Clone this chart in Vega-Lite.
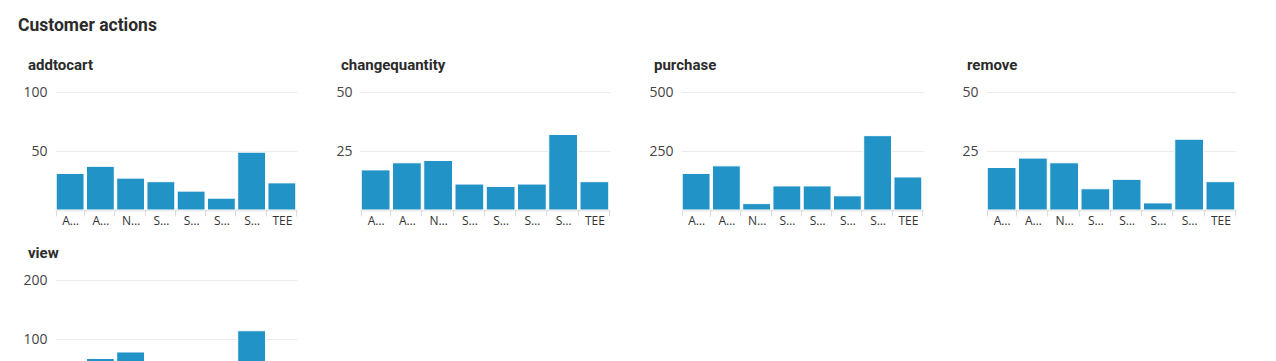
{
  "$schema": "https://vega.github.io/schema/vega-lite/v6.json",
  "background": "#ffffff",
  "padding": {"left": 17, "top": 16, "right": 5, "bottom": 0},
  "title": {"text": "Customer actions", "anchor": "start", "dx": -5, "fontSize": 17.5, "font": "Roboto", "fontWeight": "bold", "color": "#2b2b2b", "offset": 24},
  "datasets": {
    "actions": [
      {"action": "addtocart", "category": "ACCESSORIES", "count": 31},
      {"action": "addtocart", "category": "APPAREL", "count": 37},
      {"action": "addtocart", "category": "NOTEBOOKS", "count": 27},
      {"action": "addtocart", "category": "SHIRTS", "count": 24},
      {"action": "addtocart", "category": "SHORTS", "count": 16},
      {"action": "addtocart", "category": "SOCKS", "count": 10},
      {"action": "addtocart", "category": "SWEATSHIRTS", "count": 49},
      {"action": "addtocart", "category": "TEE", "count": 23},
      {"action": "changequantity", "category": "ACCESSORIES", "count": 17},
      {"action": "changequantity", "category": "APPAREL", "count": 20},
      {"action": "changequantity", "category": "NOTEBOOKS", "count": 21},
      {"action": "changequantity", "category": "SHIRTS", "count": 11},
      {"action": "changequantity", "category": "SHORTS", "count": 10},
      {"action": "changequantity", "category": "SOCKS", "count": 11},
      {"action": "changequantity", "category": "SWEATSHIRTS", "count": 32},
      {"action": "changequantity", "category": "TEE", "count": 12},
      {"action": "purchase", "category": "ACCESSORIES", "count": 155},
      {"action": "purchase", "category": "APPAREL", "count": 187},
      {"action": "purchase", "category": "NOTEBOOKS", "count": 27},
      {"action": "purchase", "category": "SHIRTS", "count": 102},
      {"action": "purchase", "category": "SHORTS", "count": 102},
      {"action": "purchase", "category": "SOCKS", "count": 60},
      {"action": "purchase", "category": "SWEATSHIRTS", "count": 315},
      {"action": "purchase", "category": "TEE", "count": 140},
      {"action": "remove", "category": "ACCESSORIES", "count": 18},
      {"action": "remove", "category": "APPAREL", "count": 22},
      {"action": "remove", "category": "NOTEBOOKS", "count": 20},
      {"action": "remove", "category": "SHIRTS", "count": 9},
      {"action": "remove", "category": "SHORTS", "count": 13},
      {"action": "remove", "category": "SOCKS", "count": 3},
      {"action": "remove", "category": "SWEATSHIRTS", "count": 30},
      {"action": "remove", "category": "TEE", "count": 12},
      {"action": "view", "category": "ACCESSORIES", "count": 55},
      {"action": "view", "category": "APPAREL", "count": 67},
      {"action": "view", "category": "NOTEBOOKS", "count": 78},
      {"action": "view", "category": "SHIRTS", "count": 40},
      {"action": "view", "category": "SHORTS", "count": 35},
      {"action": "view", "category": "SOCKS", "count": 20},
      {"action": "view", "category": "SWEATSHIRTS", "count": 114},
      {"action": "view", "category": "TEE", "count": 50}
    ]
  },
  "data": {"name": "actions"},
  "columns": 4,
  "spacing": {"column": 38, "row": 20},
  "concat": [
    {
      "title": {"text": "addtocart"},
      "width": 242, "height": 118,
      "transform": [{"filter": "datum.action === 'addtocart'"}],
      "mark": {"type": "bar", "color": "#2193c6", "stroke": "#ffffff", "strokeWidth": 1},
      "encoding": {
        "x": {"field": "category", "type": "nominal", "title": null, "scale": {"paddingInner": 0.08, "paddingOuter": 0.04}},
        "y": {"field": "count", "type": "quantitative", "title": null, "scale": {"domain": [0, 100], "nice": false}, "axis": {"values": [50, 100]}}
      }
    },
    {
      "title": {"text": "changequantity"},
      "width": 250, "height": 118,
      "transform": [{"filter": "datum.action === 'changequantity'"}],
      "mark": {"type": "bar", "color": "#2193c6", "stroke": "#ffffff", "strokeWidth": 1},
      "encoding": {
        "x": {"field": "category", "type": "nominal", "title": null, "scale": {"paddingInner": 0.08, "paddingOuter": 0.04}},
        "y": {"field": "count", "type": "quantitative", "title": null, "scale": {"domain": [0, 50], "nice": false}, "axis": {"values": [25, 50]}}
      }
    },
    {
      "title": {"text": "purchase"},
      "width": 242, "height": 118,
      "transform": [{"filter": "datum.action === 'purchase'"}],
      "mark": {"type": "bar", "color": "#2193c6", "stroke": "#ffffff", "strokeWidth": 1},
      "encoding": {
        "x": {"field": "category", "type": "nominal", "title": null, "scale": {"paddingInner": 0.08, "paddingOuter": 0.04}},
        "y": {"field": "count", "type": "quantitative", "title": null, "scale": {"domain": [0, 500], "nice": false}, "axis": {"values": [250, 500]}}
      }
    },
    {
      "title": {"text": "remove"},
      "width": 250, "height": 118,
      "transform": [{"filter": "datum.action === 'remove'"}],
      "mark": {"type": "bar", "color": "#2193c6", "stroke": "#ffffff", "strokeWidth": 1},
      "encoding": {
        "x": {"field": "category", "type": "nominal", "title": null, "scale": {"paddingInner": 0.08, "paddingOuter": 0.04}},
        "y": {"field": "count", "type": "quantitative", "title": null, "scale": {"domain": [0, 50], "nice": false}, "axis": {"values": [25, 50]}}
      }
    },
    {
      "title": {"text": "view"},
      "width": 242, "height": 118,
      "transform": [{"filter": "datum.action === 'view'"}],
      "mark": {"type": "bar", "color": "#2193c6", "stroke": "#ffffff", "strokeWidth": 1},
      "encoding": {
        "x": {"field": "category", "type": "nominal", "title": null, "scale": {"paddingInner": 0.08, "paddingOuter": 0.04}},
        "y": {"field": "count", "type": "quantitative", "title": null, "scale": {"domain": [0, 200], "nice": false}, "axis": {"values": [100, 200]}}
      }
    }
  ],
  "config": {
    "view": {"stroke": null},
    "title": {"anchor": "start", "frame": "bounds", "dx": 5, "fontSize": 15, "font": "Roboto", "fontWeight": "bold", "color": "#2b2b2b", "offset": 12},
    "axisY": {"domain": false, "ticks": false, "grid": true, "gridColor": "#ebebeb", "gridWidth": 1, "labelFont": "Open Sans", "labelFontSize": 14, "labelColor": "#444444", "labelPadding": 8},
    "axisX": {"grid": false, "domain": true, "domainColor": "#dcdcdc", "domainWidth": 1.5, "ticks": true, "tickColor": "#dcdcdc", "tickSize": 6, "tickBand": "extent", "labelAngle": 0, "labelFont": "Open Sans", "labelFontSize": 12, "labelColor": "#333333", "labelPadding": -1, "labelExpr": "length(datum.label) > 3 ? slice(datum.label, 0, 1) + '…' : datum.label"}
  }
}
